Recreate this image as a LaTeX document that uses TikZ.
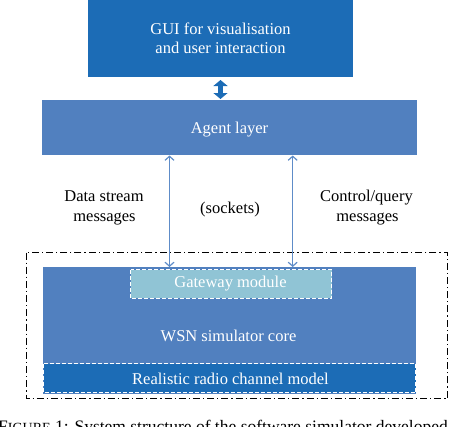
\documentclass[tikz,border=0pt]{standalone}
\usepackage{fontspec}
\setmainfont{Liberation Serif}
\usetikzlibrary{arrows.meta}
\definecolor{guiblue}{HTML}{1C6CB6}
\definecolor{agentblue}{HTML}{5180BF}
\definecolor{gwblue}{HTML}{90C4D5}
\definecolor{linkblue}{HTML}{5E8CC8}
\tikzset{
  x=1pt, y=-1pt,
  lbl/.style={font=\fontsize{16.5}{20}\selectfont, inner sep=0pt},
  wlbl/.style={lbl, text=white},
  blockbox/.style={fill=#1, draw=none},
  dashbox/.style={fill=#1, draw=white, line width=1pt, dash pattern=on 4pt off 2pt},
  link/.style={draw=linkblue, line width=1.2pt, {Straight Barb[length=4pt,width=9pt]}-{Straight Barb[length=4pt,width=9pt]}},
  biglink/.style={draw=guiblue, line width=5pt, {Triangle[length=6pt,width=14pt]}-{Triangle[length=6pt,width=14pt]}},
  frame/.style={draw=black, line width=1.2pt, dash pattern=on 7pt off 3pt on 1.2pt off 3pt}
}
\begin{document}
\begin{tikzpicture}
\useasboundingbox (0,0) rectangle (474,426);
\clip (0,0) rectangle (474,426);
% GUI
\path[blockbox=guiblue] (88,-2) rectangle (353,77);
\node[wlbl, anchor=base] (gui1) at (220.5,34) {GUI for visualisation};
\node[wlbl, anchor=base] (gui2) at (220.5,53.5) {and user interaction};
% Agent
\path[blockbox=agentblue] (42,100) rectangle (417,155);
\node[wlbl, anchor=base] (agent) at (229.5,133) {Agent layer};
% outer frame
\draw[frame] (26.5,252.5) rectangle (447.5,398.5);
% WSN core
\path[blockbox=agentblue] (43,266.5) rectangle (416,393.5);
\node[wlbl, anchor=base] (core) at (228.5,341) {WSN simulator core};
% Gateway
\path[dashbox=gwblue] (130.5,269.5) rectangle (331.5,298);
\node[wlbl, anchor=base] (gw) at (230.5,287) {Gateway module};
% Radio
\path[dashbox=guiblue] (43.5,363.5) rectangle (415.5,392.5);
\node[wlbl, anchor=base] (radio) at (230.5,384.5) {Realistic radio channel model};
% arrows
\coordinate (guiS) at (220.5,80);
\coordinate (agN) at (220.5,99);
\coordinate (a1t) at (169.5,155.5);
\coordinate (a1b) at (169.5,267);
\coordinate (a2t) at (292.7,155.5);
\coordinate (a2b) at (292.7,267);
\draw[link] (a1t) -- (a1b);
\draw[link] (a2t) -- (a2b);
\draw[biglink] (guiS) -- (agN);
% labels
\node[lbl, anchor=base] (ds1) at (104,201.5) {Data stream};
\node[lbl, anchor=base] (ds2) at (104.5,221.5) {messages};
\node[lbl, anchor=base] (sock) at (230,213) {(sockets)};
\node[lbl, anchor=base] (cq1) at (366.5,201.5) {Control/query};
\node[lbl, anchor=base] (cq2) at (367.5,221.5) {messages};
% caption (cut off at the lower edge)
\node[lbl, font=\fontsize{17.5}{20}\selectfont, anchor=base west] (cap) at (-2,432.5) {F{\fontsize{14}{16}\selectfont IGURE} 1: System structure of the software simulator developed};
\end{tikzpicture}
\end{document}
